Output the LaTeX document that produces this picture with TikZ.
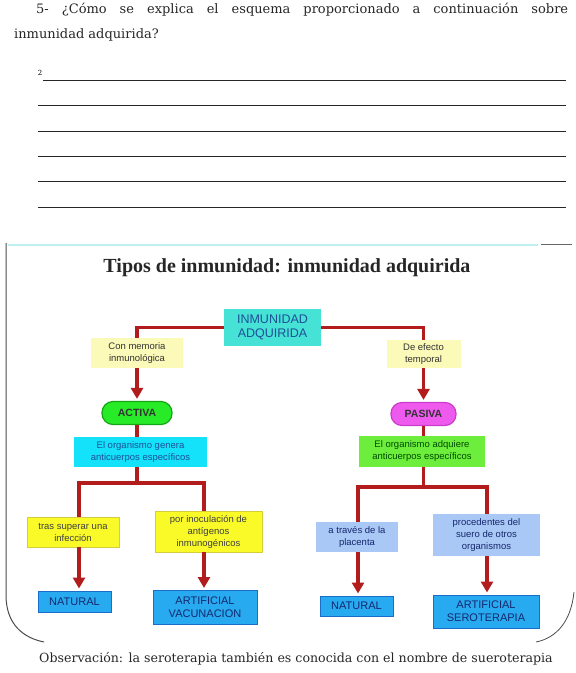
\documentclass[tikz,border=0pt]{standalone}
\usepackage{fontspec}
\setmainfont{DejaVu Serif}
\newfontfamily\diagsans{Liberation Sans}
\newfontfamily\titleserif{Liberation Serif}
\usepackage{xcolor}
\usepackage{tikz}
\usetikzlibrary{arrows.meta, positioning, calc}
\definecolor{LinkRed}{RGB}{178, 28, 28}
\definecolor{RootTeal}{RGB}{70, 226, 214}
\definecolor{RootText}{RGB}{30, 80, 150}
\definecolor{NotePale}{RGB}{252, 250, 185}
\definecolor{ActGreen}{RGB}{40, 235, 40}
\definecolor{ActEdge}{RGB}{20, 165, 20}
\definecolor{PasMagenta}{RGB}{238, 90, 238}
\definecolor{PasEdge}{RGB}{200, 60, 200}
\definecolor{GenCyan}{RGB}{20, 225, 250}
\definecolor{AdqLime}{RGB}{110, 238, 60}
\definecolor{WayYellow}{RGB}{250, 250, 40}
\definecolor{WayEdge}{RGB}{215, 205, 60}
\definecolor{SrcBlue}{RGB}{170, 200, 245}
\definecolor{EndBlue}{RGB}{40, 170, 240}
\definecolor{EndEdge}{RGB}{25, 110, 200}
\definecolor{EndText}{RGB}{20, 40, 110}
\definecolor{FrameCyan}{RGB}{190, 240, 240}

\begin{document}
\begin{tikzpicture}[x=1pt, y=-1pt,
  root/.style={fill=RootTeal, minimum width=97pt, minimum height=37pt, inner sep=0pt,
    align=center, text=RootText, font=\diagsans\fontsize{12.5}{13.5}\selectfont},
  note/.style={fill=NotePale, inner sep=0pt, align=center, text=black!80,
    font=\diagsans\fontsize{9.5}{12}\selectfont},
  kind/.style={rounded corners=11pt, line width=1.2pt, inner sep=0pt, minimum height=23pt,
    font=\diagsans\bfseries\fontsize{10.5}{11}\selectfont},
  info/.style={inner sep=0pt, align=center, font=\diagsans\fontsize{9.5}{12}\selectfont},
  way/.style={info, fill=WayYellow, draw=WayEdge, line width=0.8pt, text=black!75},
  src/.style={info, fill=SrcBlue, text=EndText},
  leaf/.style={fill=EndBlue, draw=EndEdge, line width=1pt, inner sep=0pt, align=center,
    text=EndText, font=\diagsans\fontsize{11}{13}\selectfont},
  link/.style={LinkRed, line width=3.5pt},
  arr/.style={link, -{Triangle[length=11pt, width=12pt]}, shorten >=2pt}
]
\useasboundingbox (0,0) rectangle (576,673);

% Question and answer lines
\node[anchor=north west, text width=554pt, align=justify, inner sep=0pt,
      font=\fontsize{13}{25}\selectfont, text=black!85] (question) at (14,3)
  {\hspace*{22pt}5- ¿Cómo se explica el esquema proporcionado a continuación sobre\linebreak inmunidad adquirida?};
\node[font=\fontsize{7}{8}\selectfont] (num) at (40,73) {2};
\draw[black!85, line width=0.8pt] (43,80.5) -- (566,80.5);
\foreach \y in {105.5, 131, 156, 181.5, 207}
  \draw[black!85, line width=0.8pt] (38,\y) -- (566,\y);

% Frame
\draw[FrameCyan, line width=1.5pt] (8,245) -- (538,245);
\draw[black!60, line width=1pt] (541,244) -- (572,244);
\draw[black!70, line width=1pt] (6,243) -- (6,595) .. controls (6,625) and (24,638) .. (44,642);
\draw[black!70, line width=0.8pt] (574,592) .. controls (571,622) and (556,638) .. (536,642);

\node[font=\titleserif\bfseries\fontsize{20}{22}\selectfont, text=black!85] (title) at (287,268)
  {Tipos de inmunidad: inmunidad adquirida};

% Top of the tree
\node[root] (inm) at (272.5,327.5) {INMUNIDAD\\ADQUIRIDA};
\node[note, minimum width=92pt, minimum height=30pt] (con) at (137,353) {Con memoria\\inmunológica};
\node[note, minimum width=74pt, minimum height=28pt] (efe) at (423.5,354) {De efecto\\temporal};

\draw[link] (inm.west) -| (con.north);
\draw[link] (inm.east) -| (efe.north);

% Left branch - active
\node[kind, fill=ActGreen, draw=ActEdge, minimum width=70pt, text=black!80] (act) at (137,413) {ACTIVA};
\node[info, fill=GenCyan, text=RootText, minimum width=133pt, minimum height=30pt] (gen) at (140.5,452)
  {El organismo genera\\anticuerpos específicos};
\node[way, minimum width=92pt, minimum height=30pt] (tras) at (73,532) {tras superar una\\infección};
\node[way, minimum width=107pt, minimum height=41pt] (ino) at (208.5,531.5)
  {por inoculación de\\antígenos\\inmunogénicos};
\node[leaf, minimum width=73pt, minimum height=21pt] (natL) at (74.5,601.5) {NATURAL};
\node[leaf, minimum width=104pt, minimum height=34pt] (vac) at (205,607.5) {ARTIFICIAL\\VACUNACION};

\coordinate (gl) at (79,483);
\coordinate (gr) at (204,483);
\draw[arr] (con) -- (act);
\draw[link] (act.south) -- (act.south |- gen.north);
\draw[link] (act.south |- gen.south) -- (act.south |- gl);
\draw[link] (gl |- tras.north) -- (gl) -- (gr) -- (gr |- ino.north);
\draw[arr] (gl |- tras.south) -- (gl |- natL.north);
\draw[arr] (gr |- ino.south) -- (gr |- vac.north);

% Right branch - passive
\node[kind, fill=PasMagenta, draw=PasEdge, minimum width=65pt, text=black!80] (pas) at (423.5,414) {PASIVA};
\node[info, fill=AdqLime, text=black!70!green, minimum width=126pt, minimum height=31pt] (adq) at (422,451.5)
  {El organismo adquiere\\anticuerpos específicos};
\node[src, minimum width=82pt, minimum height=30pt] (pla) at (357,537) {a través de la\\placenta};
\node[src, minimum width=107pt, minimum height=42pt] (pro) at (486.5,535)
  {procedentes del\\suero de otros\\organismos};
\node[leaf, minimum width=73pt, minimum height=20pt] (natR) at (356.5,606) {NATURAL};
\node[leaf, minimum width=106pt, minimum height=33pt] (ser) at (486,611.5) {ARTIFICIAL\\SEROTERAPIA};

\coordinate (al) at (358,487);
\coordinate (ar) at (487,487);
\draw[arr] (efe) -- (pas);
\draw[link] (pas.south) -- (pas.south |- adq.north);
\draw[link] (pas.south |- adq.south) -- (pas.south |- al);
\draw[link] (al |- pla.north) -- (al) -- (ar) -- (ar |- pro.north);
\draw[arr] (al |- pla.south) -- (al |- natR.north);
\draw[arr] (ar |- pro.south) -- (ar |- ser.north);

\node[font=\fontsize{12.6}{14}\selectfont, text=black!85] (obs) at (296,659)
  {Observación: la seroterapia también es conocida con el nombre de sueroterapia};
\end{tikzpicture}
\end{document}
